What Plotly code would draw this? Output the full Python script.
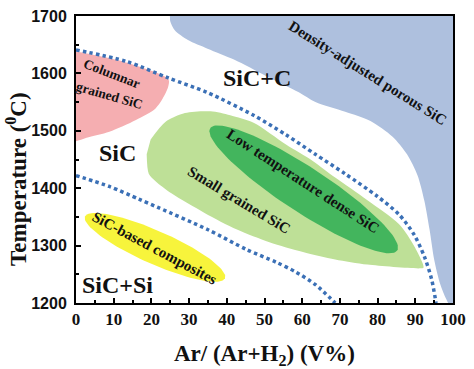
import numpy as np
import plotly.graph_objects as go

# ---- region outlines (data coordinates: x = Ar %, y = temperature) ----
blue_x = [24.5, 24.9, 25.0, 26.2, 29.7, 34.9, 41.9, 50.5, 59.1, 63.5, 71.4, 78.1, 83.9,
          87.8, 90.6, 92.4, 93.8, 95.0, 96.6, 97.9, 98.7, 99.0, 105, 105]
blue_y = [1710, 1700, 1691, 1675, 1658, 1643, 1624, 1595, 1567, 1550, 1533, 1517, 1490,
          1459, 1422, 1378, 1327, 1276, 1233, 1211, 1200, 1190, 1190, 1710]

pink_x = [-2, 0, 13.3, 24.5, 24.5, 23.4, 21.1, 15.9, 8.85, 2.8, 0, -2]
pink_y = [1639, 1638, 1619, 1590, 1578, 1561, 1539, 1519, 1498.5, 1488, 1482, 1481]

light_x = [19.8, 23.7, 28.9, 35.7, 40.9, 47.1, 55.7, 62.8, 68.75, 77.3, 85.7, 89.8, 92.2,
           91.4, 77.3, 68.75, 60.2, 51.3, 42.7, 34.1, 25.3, 21.1, 19.3, 18.75]
light_y = [1485, 1515.5, 1531, 1534, 1527, 1514, 1476, 1447.5, 1418.5, 1379, 1337, 1298, 1262,
           1260.4, 1267, 1276, 1289, 1306, 1328, 1357, 1391, 1412, 1425, 1459]

# ellipses: centre, major semi-axis vector, conjugate minor semi-axis vector (data units)
dark_center = (60.4, 1398.0)
dark_u = (24.8, -106.5)
dark_v = (-3.29, -32.7)
yellow_center = (20.96, 1296.9)
yellow_u = (18.56, -53.9)
yellow_v = (-1.80, -26.4)

# ---- dotted phase boundaries ----
upper_x = [0, 13.3, 24.5, 34.9, 47.1, 55.7, 63.5, 71.4, 79.9, 85.7, 89.6, 92.4, 94.3, 95.5]
upper_y = [1641, 1621, 1592, 1566.5, 1527, 1493, 1459, 1425, 1386, 1354, 1320, 1281, 1242, 1200]
lower_x = [0, 8.85, 16.7, 21.9, 34.9, 45.3, 53.1, 58.3, 63.5, 68.75]
lower_y = [1422, 1403, 1381, 1366, 1328, 1293, 1271, 1254, 1232, 1200]

x_ticks = [0, 10, 20, 30, 40, 50, 60, 70, 80, 90, 100]
y_ticks = [1200, 1300, 1400, 1500, 1600, 1700]

SERIF = "Liberation Serif"
SANS = "Liberation Sans"

def ellipse(c, u, v, n=120):
    t = np.linspace(0, 2 * np.pi, n)
    return (c[0] + np.cos(t) * u[0] + np.sin(t) * v[0],
            c[1] + np.cos(t) * u[1] + np.sin(t) * v[1])

fig = go.Figure()

def region(x, y, color, spline=True):
    fig.add_trace(go.Scatter(x=x, y=y, fill="toself", fillcolor=color, mode="lines",
                             line=dict(width=0, color=color, shape="spline" if spline else "linear",
                                       smoothing=0.8),
                             hoverinfo="skip", showlegend=False))

region(blue_x, blue_y, "#aec0de")
region(pink_x, pink_y, "#f5aeb1")
region(light_x, light_y, "#bee097")
ex, ey = ellipse(dark_center, dark_u, dark_v)
region(ex, ey, "#43b55d", spline=False)
ex, ey = ellipse(yellow_center, yellow_u, yellow_v)
region(ex, ey, "#f7f43c", spline=False)

for lx, ly in [(upper_x, upper_y), (lower_x, lower_y)]:
    fig.add_trace(go.Scatter(x=lx, y=ly, mode="lines",
                             line=dict(color="#3b70b6", width=3.5, dash="3.5px,3.2px",
                                       shape="spline", smoothing=0.8),
                             hoverinfo="skip", showlegend=False))

labels = [
    ("SiC+C", 47.9, 1592, 0, 24),
    ("SiC", 10.9, 1461, 0, 24),
    ("SiC+Si", 10.9, 1231, 0, 24),
    ("Density-adjusted porous SiC", 77.4, 1600, 32, 15),
    ("Columnar", 9.3, 1599, 21, 13.5),
    ("grained SiC", 8.85, 1561, 16, 13.5),
    ("Low temperature dense SiC", 60.2, 1413, 33, 15),
    ("Small grained SiC", 43.3, 1380, 31, 15),
    ("SiC-based composites", 20.8, 1295, 28, 15),
]
for text, x, y, ang, size in labels:
    fig.add_annotation(x=x, y=y, text="<b>" + text + "</b>", showarrow=False, textangle=ang,
                       xanchor="center", yanchor="middle",
                       font=dict(family=SERIF, size=size, color="#111111"))

fig.add_annotation(xref="paper", yref="paper", x=-0.158, y=0.434,
                   text="<b>Temperature (<sup>0</sup>C)</b>",
                   textangle=-90, showarrow=False, xanchor="center", yanchor="middle",
                   font=dict(family=SERIF, size=23, color="#111111"))
fig.add_annotation(xref="paper", yref="paper", x=0.5, y=-0.18,
                   text="<b>Ar/ (Ar+H<sub>2</sub>) (V%)</b>",
                   showarrow=False, xanchor="center", yanchor="middle",
                   font=dict(family=SERIF, size=23, color="#111111"))

fig.update_layout(
    width=474, height=369,
    margin=dict(l=76, r=14, t=8, b=66),
    paper_bgcolor="white", plot_bgcolor="white",
    xaxis=dict(range=[0, 100], tickvals=x_ticks, ticktext=["<b>%d</b>" % v for v in x_ticks],
               showgrid=False, zeroline=False, showline=True, linecolor="black", linewidth=2,
               mirror=True, ticks="inside", ticklen=5, tickwidth=1.5, tickcolor="black",
               minor=dict(ticks="inside", ticklen=3, dtick=5, tickcolor="black", tickwidth=1.5),
               ticklabelstandoff=0,
               tickfont=dict(family=SERIF, size=17, color="#111111")),
    yaxis=dict(range=[1200, 1700], tickvals=y_ticks, ticktext=["<b>%d</b>" % v for v in y_ticks],
               showgrid=False, zeroline=False, showline=True, linecolor="black", linewidth=2,
               mirror=True, ticks="inside", ticklen=5, tickwidth=1.5, tickcolor="black",
               minor=dict(ticks="inside", ticklen=3, dtick=50, tickcolor="black", tickwidth=1.5),
               ticklabelstandoff=4,
               tickfont=dict(family=SANS, size=16, color="#111111")),
)

fig.write_html("out.html", config={"displayModeBar": False},
               post_script="document.body.style.margin='0';")
